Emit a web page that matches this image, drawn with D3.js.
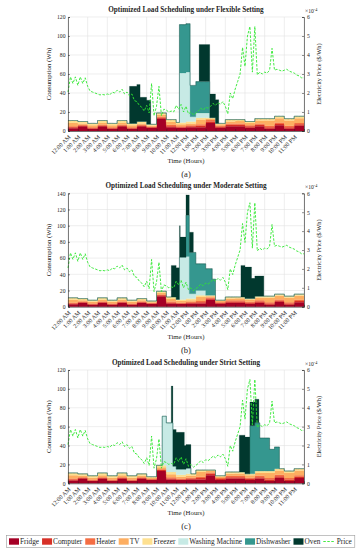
<!DOCTYPE html>
<html>
<head>
<meta charset="utf-8">
<script src="https://cdn.jsdelivr.net/npm/d3@7"></script>
<style>
  body { margin: 0; background: #fff; }
  text { font-family: "Liberation Serif", "DejaVu Serif", serif; fill: #262626; }
</style>
</head>
<body>
<div id="chart"></div>
<script>
// x axis labels, one per hour
const hourLabels = [
  '12:00 AM', '1:00 AM', '2:00 AM', '3:00 AM', '4:00 AM', '5:00 AM', '6:00 AM', '7:00 AM',
  '8:00 AM', '9:00 AM', '10:00 AM', '11:00 AM', '12:00 PM', '1:00 PM', '2:00 PM', '3:00 PM',
  '4:00 PM', '5:00 PM', '6:00 PM', '7:00 PM', '8:00 PM', '9:00 PM', '10:00 PM', '11:00 PM'
];

// non-shiftable loads, Wh per hour (same in all three settings)
const fridge   = [3, 5, 2.5, 5, 2.5, 5, 2.5, 5, 3.5, 13, 4, 3.5, 4, 4, 8.5, 3.5, 5, 5, 3.5, 5, 2.5, 6, 2.5, 5.5];
const computer = [1, 0.5, 0.5, 0.5, 0.5, 0.5, 0.5, 0.5, 0.5, 1, 1, 0.5, 1, 1.5, 1.5, 1, 1.5, 1.5, 1.5, 1.5, 1.5, 1.5, 1.5, 1.5];
const heater   = [1, 1, 1, 1, 1, 1, 1, 1, 0.5, 1, 1.5, 1, 1, 1.5, 1.5, 1, 1.5, 1.5, 1, 1.5, 1.5, 1.5, 1.5, 1.5];
const tv       = [3.5, 1.5, 2, 2, 2, 2, 2, 1.5, 1, 2, 3, 2, 2, 5, 1.5, 1.5, 2, 2.5, 2.5, 3, 5.5, 4.5, 5.5, 5];
const freezer  = [2.5, 2, 2, 2.5, 2, 2.5, 2, 2, 1.5, 2, 2.5, 2, 2, 2, 1, 1, 2, 1.5, 1.5, 2, 2, 2, 2, 2];

// shiftable loads: [start hour, end hour, Wh]
const flexWashing = [[11.33, 12.42, 52], [12.42, 14.42, 5]];
const flexDish    = [[11.33, 12.42, 51], [12.42, 14.42, 33]];
const flexOven    = [[6.25, 7.33, 39], [7.33, 8.42, 25.5], [13.33, 14.42, 39], [14.42, 15.33, 25]];

const modWashing = [[11.33, 12.33, 52], [12.33, 14.0, 6]];
const modDish    = [[12.0, 13.0, 51], [13.0, 14.67, 33], [14.67, 15.0, 20]];
const modOven    = [[10.5, 11.42, 39], [11.42, 12.75, 25], [17.58, 18.67, 39], [18.67, 19.92, 25]];

const strictWashing = [[9.58, 10.67, 52], [10.67, 12.5, 6]];
const strictDish    = [[18.5, 19.5, 51], [19.5, 20.5, 35], [20.5, 21.5, 23]];
const strictOven    = [[10.5, 11.83, 39], [11.83, 12.5, 25], [17.42, 18.5, 39], [18.5, 19.42, 25]];

// electricity price, x1e-4 $/Wh, every 15 minutes from 0:00 to 24:00
const price = [
  2.05, 2.85, 2.5, 2.85, 2.4, 2.85, 2.5, 2.8,
  2.35, 2.1, 2.05, 2.0, 1.95, 1.9, 1.92, 1.9,
  1.95, 1.9, 2.05, 2.0, 2.15, 2.05, 2.2, 1.95,
  2.05, 1.85, 1.95, 1.6, 1.55, 1.35, 1.25, 1.05,
  1.35, 0.95, 2.5, 0.8, 1.3, 2.35, 0.8, 1.15,
  1.1, 1.0, 1.05, 1.0, 1.35, 1.15, 1.4, 1.0,
  1.3, 0.9, 1.0, 0.85, 0.95, 1.05, 1.2, 1.1,
  1.25, 1.2, 1.3, 1.45, 1.35, 1.5, 1.4, 1.55,
  1.3, 0.9, 2.0, 1.7, 2.2, 2.6, 3.0, 4.4,
  3.4, 5.0, 5.5, 3.1, 5.5, 2.95, 3.1, 3.0,
  3.1, 3.05, 3.2, 4.35, 3.2, 3.25, 3.2, 3.15,
  3.2, 3.25, 3.15, 3.1, 3.05, 2.95, 2.9, 2.8,
  2.8
];

const keys = ['fridge', 'computer', 'heater', 'tv', 'freezer', 'washing', 'dish', 'oven'];
const names = ['Fridge', 'Computer', 'Heater', 'TV', 'Freezer', 'Washing Machine', 'Dishwasher', 'Oven'];
const colors = ['#a50026', '#d73027', '#f46d43', '#fdae61', '#fee090', '#c7eae5', '#35978f', '#01382e'];
const PRICE_COLOR = '#2fe82f';

const width = 360;
const height = 550;
const left = 68;
const right = 304;

const svg = d3.select('#chart')
  .append('svg')
  .attr('width', width)
  .attr('height', height);

const x = d3.scaleLinear().domain([0, 24]).range([left, right]);
const color = d3.scaleOrdinal().domain(keys).range(colors);

const STEP = 1 / 12;
const slotStarts = d3.range(24 * 12).map(i => i * STEP);

function fromSegments(segs) {
  return slotStarts.map(t => {
    const mid = t + STEP / 2;
    const s = segs.find(s => mid >= s[0] && mid < s[1]);
    return s ? s[2] : 0;
  });
}

function buildRows(washing, dish, oven) {
  const w = fromSegments(washing), d = fromSegments(dish), o = fromSegments(oven);
  const rows = slotStarts.map((t, i) => {
    const h = Math.floor(t + 1e-9);
    return {
      t, fridge: fridge[h], computer: computer[h], heater: heater[h], tv: tv[h],
      freezer: freezer[h], washing: w[i], dish: d[i], oven: o[i]
    };
  });
  rows.push(Object.assign({}, rows[rows.length - 1], { t: 24 }));
  return rows;
}

const panels = [
  { title: 'Optimized Load Scheduling under Flexible Setting', tag: '(a)', top: 17, bottom: 131, yMax: 120,
    rows: buildRows(flexWashing, flexDish, flexOven) },
  { title: 'Optimized Load Scheduling under Moderate Setting', tag: '(b)', top: 193.3, bottom: 306.7, yMax: 140,
    rows: buildRows(modWashing, modDish, modOven) },
  { title: 'Optimized Load Scheduling under Strict Setting', tag: '(c)', top: 370, bottom: 483.3, yMax: 120,
    rows: buildRows(strictWashing, strictDish, strictOven) }
];

panels.forEach(p => {
  const g = svg.append('g');
  const y = d3.scaleLinear().domain([0, p.yMax]).range([p.bottom, p.top]);
  const yPrice = d3.scaleLinear().domain([0, 6]).range([p.bottom, p.top]);
  const yTicks = d3.range(0, p.yMax + 1, 20);

  // grid
  g.append('g')
    .selectAll('line')
    .data(yTicks)
    .enter()
    .append('line')
    .attr('x1', left).attr('x2', right)
    .attr('y1', d => y(d)).attr('y2', d => y(d))
    .style('stroke', '#e3e3e3').style('stroke-width', 0.6);

  g.append('g')
    .selectAll('line')
    .data(d3.range(0, 25, 2))
    .enter()
    .append('line')
    .attr('x1', d => x(d)).attr('x2', d => x(d))
    .attr('y1', p.top).attr('y2', p.bottom)
    .style('stroke', '#e3e3e3').style('stroke-width', 0.6);

  // stacked loads
  const series = d3.stack().keys(keys)(p.rows);
  const area = d3.area()
    .curve(d3.curveStepAfter)
    .x(d => x(d.data.t))
    .y0(d => y(d[0]))
    .y1(d => y(d[1]));

  g.append('g')
    .selectAll('path')
    .data(series)
    .enter()
    .append('path')
    .attr('d', area)
    .style('fill', d => color(d.key))
    .style('stroke', d => color(d.key))
    .style('stroke-width', 0.2);

  // price line
  const line = d3.line()
    .x((d, i) => x(i / 4))
    .y(d => yPrice(d));

  g.append('path')
    .datum(price)
    .attr('d', line)
    .style('fill', 'none')
    .style('stroke', PRICE_COLOR)
    .style('stroke-width', 0.9)
    .style('stroke-dasharray', '2.5,1.5');

  // axes
  const axisLeft = d3.axisLeft(y).tickValues(yTicks).tickSize(-2).tickPadding(2.5);
  const axisRight = d3.axisRight(yPrice).tickValues(d3.range(0, 7)).tickFormat(d3.format('d')).tickSize(-2).tickPadding(3);
  const axisBottom = d3.axisBottom(x).tickValues(d3.range(24)).tickSize(-2).tickFormat((d, i) => hourLabels[i]);

  const gl = g.append('g').attr('transform', `translate(${left},0)`).call(axisLeft);
  const gr = g.append('g').attr('transform', `translate(${right},0)`).call(axisRight);
  const gb = g.append('g').attr('transform', `translate(0,${p.bottom})`).call(axisBottom);

  [gl, gr, gb].forEach(a => {
    a.select('.domain').style('stroke', '#262626').style('stroke-width', 0.6);
    a.selectAll('.tick line').style('stroke', '#262626').style('stroke-width', 0.5);
    a.selectAll('text').style('font-family', '"Liberation Serif", serif').style('font-size', '5.7px').style('fill', '#262626');
  });

  gb.selectAll('text')
    .attr('y', 0)
    .attr('dy', '0.35em')
    .style('font-size', '6px')
    .attr('transform', 'translate(1,5) rotate(-45)')
    .style('text-anchor', 'end');

  // labels
  g.append('text')
    .attr('x', (left + right) / 2)
    .attr('y', p.top - 5)
    .attr('text-anchor', 'middle')
    .style('font-size', '7.2px')
    .style('font-weight', 'bold')
    .text(p.title);

  g.append('text')
    .attr('transform', `translate(51,${(p.top + p.bottom) / 2}) rotate(-90)`)
    .attr('text-anchor', 'middle')
    .style('font-size', '6.8px')
    .text('Consumption (Wh)');

  g.append('text')
    .attr('transform', `translate(321,${(p.top + p.bottom) / 2}) rotate(-90)`)
    .attr('text-anchor', 'middle')
    .style('font-size', '6.4px')
    .text('Electricity Price ($/Wh)');

  const exp = g.append('text')
    .attr('x', right + 1)
    .attr('y', p.top - 4)
    .style('font-size', '5.6px');
  exp.append('tspan').text('\u00d710');
  exp.append('tspan').attr('dy', -2.5).style('font-size', '4.2px').text('-4');

  g.append('text')
    .attr('x', (left + right) / 2)
    .attr('y', p.bottom + 32)
    .attr('text-anchor', 'middle')
    .style('font-size', '6.8px')
    .text('Time (Hours)');

  g.append('text')
    .attr('x', (left + right) / 2)
    .attr('y', p.bottom + 46)
    .attr('text-anchor', 'middle')
    .style('font-size', '8.5px')
    .text(p.tag);
});

// legend
const legend = svg.append('g').attr('transform', 'translate(0,541.5)');
let cx = 9;
const items = names.map((n, i) => ({ name: n, key: keys[i] })).concat([{ name: 'Price', key: 'price' }]);
items.forEach(it => {
  const item = legend.append('g').attr('transform', `translate(${cx},0)`);
  let sw = 10;
  if (it.key === 'price') {
    item.append('line')
      .attr('x1', 0).attr('x2', 12).attr('y1', 0).attr('y2', 0)
      .style('stroke', PRICE_COLOR).style('stroke-width', 0.9).style('stroke-dasharray', '2.5,1.5');
    sw = 12.5;
  } else {
    item.append('rect')
      .attr('x', 0).attr('y', -3.2).attr('width', sw).attr('height', 6.4)
      .style('fill', color(it.key));
  }
  const t = item.append('text')
    .attr('x', sw + 1)
    .attr('y', 2.4)
    .style('font-size', '7.3px')
    .text(it.name);
  cx += sw + 1 + t.node().getComputedTextLength() + 3;
});
svg.insert('rect', 'g')
  .attr('x', 6.5).attr('y', 535.5)
  .attr('width', cx - 6.5).attr('height', 12)
  .style('fill', '#fff')
  .style('stroke', '#9a9a9a')
  .style('stroke-width', 0.6);
</script>
</body>
</html>
